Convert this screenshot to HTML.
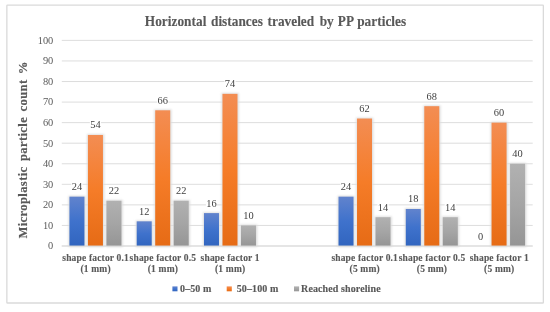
<!DOCTYPE html>
<html lang="en"><head><meta charset="utf-8"><title>Horizontal distances traveled by PP particles</title>
<style>html,body{margin:0;padding:0;background:#fff;}svg{display:block;}text{font-family:'Liberation Serif', serif;}</style>
</head><body>
<svg width="550" height="312" viewBox="0 0 550 312">
<defs>
<linearGradient id="gb" x1="0" y1="0" x2="0" y2="1"><stop offset="0" stop-color="#6183cd"/><stop offset="0.5" stop-color="#3f72cc"/><stop offset="1" stop-color="#3165bf"/></linearGradient>
<linearGradient id="go" x1="0" y1="0" x2="0" y2="1"><stop offset="0" stop-color="#f38d53"/><stop offset="0.5" stop-color="#f57c28"/><stop offset="1" stop-color="#e66b15"/></linearGradient>
<linearGradient id="gg" x1="0" y1="0" x2="0" y2="1"><stop offset="0" stop-color="#b1b1b1"/><stop offset="0.5" stop-color="#a5a5a5"/><stop offset="1" stop-color="#959595"/></linearGradient>
<filter id="sh" filterUnits="userSpaceOnUse" x="0" y="0" width="550" height="312"><feGaussianBlur stdDeviation="0.9"/></filter>
</defs>
<rect x="0" y="0" width="550" height="312" fill="#ffffff"/>
<rect x="6.85" y="5.05" width="536.5" height="297.95" rx="0.6" fill="#ffffff" stroke="#dadada" stroke-width="1.3"/>
<line x1="61.8" y1="246.00" x2="532.7" y2="246.00" stroke="#d9d9d9" stroke-width="0.9"/>
<line x1="61.8" y1="225.44" x2="532.7" y2="225.44" stroke="#d9d9d9" stroke-width="0.9"/>
<line x1="61.8" y1="204.88" x2="532.7" y2="204.88" stroke="#d9d9d9" stroke-width="0.9"/>
<line x1="61.8" y1="184.32" x2="532.7" y2="184.32" stroke="#d9d9d9" stroke-width="0.9"/>
<line x1="61.8" y1="163.76" x2="532.7" y2="163.76" stroke="#d9d9d9" stroke-width="0.9"/>
<line x1="61.8" y1="143.20" x2="532.7" y2="143.20" stroke="#d9d9d9" stroke-width="0.9"/>
<line x1="61.8" y1="122.64" x2="532.7" y2="122.64" stroke="#d9d9d9" stroke-width="0.9"/>
<line x1="61.8" y1="102.08" x2="532.7" y2="102.08" stroke="#d9d9d9" stroke-width="0.9"/>
<line x1="61.8" y1="81.52" x2="532.7" y2="81.52" stroke="#d9d9d9" stroke-width="0.9"/>
<line x1="61.8" y1="60.96" x2="532.7" y2="60.96" stroke="#d9d9d9" stroke-width="0.9"/>
<line x1="61.8" y1="40.40" x2="532.7" y2="40.40" stroke="#d9d9d9" stroke-width="0.9"/>
<text x="53.3" y="249.30" font-size="10.4" fill="#595959" text-anchor="end">0</text>
<text x="53.3" y="228.74" font-size="10.4" fill="#595959" text-anchor="end">10</text>
<text x="53.3" y="208.18" font-size="10.4" fill="#595959" text-anchor="end">20</text>
<text x="53.3" y="187.62" font-size="10.4" fill="#595959" text-anchor="end">30</text>
<text x="53.3" y="167.06" font-size="10.4" fill="#595959" text-anchor="end">40</text>
<text x="53.3" y="146.50" font-size="10.4" fill="#595959" text-anchor="end">50</text>
<text x="53.3" y="125.94" font-size="10.4" fill="#595959" text-anchor="end">60</text>
<text x="53.3" y="105.38" font-size="10.4" fill="#595959" text-anchor="end">70</text>
<text x="53.3" y="84.82" font-size="10.4" fill="#595959" text-anchor="end">80</text>
<text x="53.3" y="64.26" font-size="10.4" fill="#595959" text-anchor="end">90</text>
<text x="53.3" y="43.70" font-size="10.4" fill="#595959" text-anchor="end">100</text>
<rect x="68.54" y="195.86" width="17.20" height="51.14" fill="#dcdcdc" filter="url(#sh)"/>
<rect x="87.04" y="134.18" width="17.20" height="112.82" fill="#dcdcdc" filter="url(#sh)"/>
<rect x="105.54" y="199.97" width="17.20" height="47.03" fill="#dcdcdc" filter="url(#sh)"/>
<rect x="69.44" y="196.66" width="15.00" height="49.34" fill="url(#gb)"/>
<rect x="71.34" y="181.76" width="11.20" height="9.5" fill="#ffffff"/>
<text x="76.94" y="190.16" font-size="10.4" fill="#404040" text-anchor="middle">24</text>
<rect x="87.94" y="134.98" width="15.00" height="111.02" fill="url(#go)"/>
<rect x="89.84" y="120.08" width="11.20" height="9.5" fill="#ffffff"/>
<text x="95.44" y="128.48" font-size="10.4" fill="#404040" text-anchor="middle">54</text>
<rect x="106.44" y="200.77" width="15.00" height="45.23" fill="url(#gg)"/>
<rect x="108.34" y="185.87" width="11.20" height="9.5" fill="#ffffff"/>
<text x="113.94" y="194.27" font-size="10.4" fill="#404040" text-anchor="middle">22</text>
<text x="95.64" y="260.5" font-size="9.5" letter-spacing="0.17" stroke="#595959" stroke-width="0.12" font-weight="bold" fill="#595959" text-anchor="middle">shape factor 0.1</text>
<text x="95.64" y="272" font-size="9.5" letter-spacing="0.17" stroke="#595959" stroke-width="0.12" font-weight="bold" fill="#595959" text-anchor="middle">(1 mm)</text>
<rect x="135.81" y="220.53" width="17.20" height="26.47" fill="#dcdcdc" filter="url(#sh)"/>
<rect x="154.31" y="109.50" width="17.20" height="137.50" fill="#dcdcdc" filter="url(#sh)"/>
<rect x="172.81" y="199.97" width="17.20" height="47.03" fill="#dcdcdc" filter="url(#sh)"/>
<rect x="136.71" y="221.33" width="15.00" height="24.67" fill="url(#gb)"/>
<rect x="138.61" y="206.43" width="11.20" height="9.5" fill="#ffffff"/>
<text x="144.21" y="214.83" font-size="10.4" fill="#404040" text-anchor="middle">12</text>
<rect x="155.21" y="110.30" width="15.00" height="135.70" fill="url(#go)"/>
<rect x="157.11" y="95.40" width="11.20" height="9.5" fill="#ffffff"/>
<text x="162.71" y="103.80" font-size="10.4" fill="#404040" text-anchor="middle">66</text>
<rect x="173.71" y="200.77" width="15.00" height="45.23" fill="url(#gg)"/>
<rect x="175.61" y="185.87" width="11.20" height="9.5" fill="#ffffff"/>
<text x="181.21" y="194.27" font-size="10.4" fill="#404040" text-anchor="middle">22</text>
<text x="162.91" y="260.5" font-size="9.5" letter-spacing="0.17" stroke="#595959" stroke-width="0.12" font-weight="bold" fill="#595959" text-anchor="middle">shape factor 0.5</text>
<text x="162.91" y="272" font-size="9.5" letter-spacing="0.17" stroke="#595959" stroke-width="0.12" font-weight="bold" fill="#595959" text-anchor="middle">(1 mm)</text>
<rect x="203.08" y="212.30" width="17.20" height="34.70" fill="#dcdcdc" filter="url(#sh)"/>
<rect x="221.58" y="93.06" width="17.20" height="153.94" fill="#dcdcdc" filter="url(#sh)"/>
<rect x="240.08" y="224.64" width="17.20" height="22.36" fill="#dcdcdc" filter="url(#sh)"/>
<rect x="203.98" y="213.10" width="15.00" height="32.90" fill="url(#gb)"/>
<rect x="205.88" y="198.20" width="11.20" height="9.5" fill="#ffffff"/>
<text x="211.48" y="206.60" font-size="10.4" fill="#404040" text-anchor="middle">16</text>
<rect x="222.48" y="93.86" width="15.00" height="152.14" fill="url(#go)"/>
<rect x="224.38" y="78.96" width="11.20" height="9.5" fill="#ffffff"/>
<text x="229.98" y="87.36" font-size="10.4" fill="#404040" text-anchor="middle">74</text>
<rect x="240.98" y="225.44" width="15.00" height="20.56" fill="url(#gg)"/>
<rect x="242.88" y="210.54" width="11.20" height="9.5" fill="#ffffff"/>
<text x="248.48" y="218.94" font-size="10.4" fill="#404040" text-anchor="middle">10</text>
<text x="230.18" y="260.5" font-size="9.5" letter-spacing="0.17" stroke="#595959" stroke-width="0.12" font-weight="bold" fill="#595959" text-anchor="middle">shape factor 1</text>
<text x="230.18" y="272" font-size="9.5" letter-spacing="0.17" stroke="#595959" stroke-width="0.12" font-weight="bold" fill="#595959" text-anchor="middle">(1 mm)</text>
<rect x="337.62" y="195.86" width="17.20" height="51.14" fill="#dcdcdc" filter="url(#sh)"/>
<rect x="356.12" y="117.73" width="17.20" height="129.27" fill="#dcdcdc" filter="url(#sh)"/>
<rect x="374.62" y="216.42" width="17.20" height="30.58" fill="#dcdcdc" filter="url(#sh)"/>
<rect x="338.52" y="196.66" width="15.00" height="49.34" fill="url(#gb)"/>
<rect x="340.42" y="181.76" width="11.20" height="9.5" fill="#ffffff"/>
<text x="346.02" y="190.16" font-size="10.4" fill="#404040" text-anchor="middle">24</text>
<rect x="357.02" y="118.53" width="15.00" height="127.47" fill="url(#go)"/>
<rect x="358.92" y="103.63" width="11.20" height="9.5" fill="#ffffff"/>
<text x="364.52" y="112.03" font-size="10.4" fill="#404040" text-anchor="middle">62</text>
<rect x="375.52" y="217.22" width="15.00" height="28.78" fill="url(#gg)"/>
<rect x="377.42" y="202.32" width="11.20" height="9.5" fill="#ffffff"/>
<text x="383.02" y="210.72" font-size="10.4" fill="#404040" text-anchor="middle">14</text>
<text x="364.72" y="260.5" font-size="9.5" letter-spacing="0.17" stroke="#595959" stroke-width="0.12" font-weight="bold" fill="#595959" text-anchor="middle">shape factor 0.1</text>
<text x="364.72" y="272" font-size="9.5" letter-spacing="0.17" stroke="#595959" stroke-width="0.12" font-weight="bold" fill="#595959" text-anchor="middle">(5 mm)</text>
<rect x="404.89" y="208.19" width="17.20" height="38.81" fill="#dcdcdc" filter="url(#sh)"/>
<rect x="423.39" y="105.39" width="17.20" height="141.61" fill="#dcdcdc" filter="url(#sh)"/>
<rect x="441.89" y="216.42" width="17.20" height="30.58" fill="#dcdcdc" filter="url(#sh)"/>
<rect x="405.79" y="208.99" width="15.00" height="37.01" fill="url(#gb)"/>
<rect x="407.69" y="194.09" width="11.20" height="9.5" fill="#ffffff"/>
<text x="413.29" y="202.49" font-size="10.4" fill="#404040" text-anchor="middle">18</text>
<rect x="424.29" y="106.19" width="15.00" height="139.81" fill="url(#go)"/>
<rect x="426.19" y="91.29" width="11.20" height="9.5" fill="#ffffff"/>
<text x="431.79" y="99.69" font-size="10.4" fill="#404040" text-anchor="middle">68</text>
<rect x="442.79" y="217.22" width="15.00" height="28.78" fill="url(#gg)"/>
<rect x="444.69" y="202.32" width="11.20" height="9.5" fill="#ffffff"/>
<text x="450.29" y="210.72" font-size="10.4" fill="#404040" text-anchor="middle">14</text>
<text x="431.99" y="260.5" font-size="9.5" letter-spacing="0.17" stroke="#595959" stroke-width="0.12" font-weight="bold" fill="#595959" text-anchor="middle">shape factor 0.5</text>
<text x="431.99" y="272" font-size="9.5" letter-spacing="0.17" stroke="#595959" stroke-width="0.12" font-weight="bold" fill="#595959" text-anchor="middle">(5 mm)</text>
<rect x="490.66" y="121.84" width="17.20" height="125.16" fill="#dcdcdc" filter="url(#sh)"/>
<rect x="509.16" y="162.96" width="17.20" height="84.04" fill="#dcdcdc" filter="url(#sh)"/>
<rect x="477.56" y="231.10" width="6.00" height="9.5" fill="#ffffff"/>
<text x="480.56" y="239.50" font-size="10.4" fill="#404040" text-anchor="middle">0</text>
<rect x="491.56" y="122.64" width="15.00" height="123.36" fill="url(#go)"/>
<rect x="493.46" y="107.74" width="11.20" height="9.5" fill="#ffffff"/>
<text x="499.06" y="116.14" font-size="10.4" fill="#404040" text-anchor="middle">60</text>
<rect x="510.06" y="163.76" width="15.00" height="82.24" fill="url(#gg)"/>
<rect x="511.96" y="148.86" width="11.20" height="9.5" fill="#ffffff"/>
<text x="517.56" y="157.26" font-size="10.4" fill="#404040" text-anchor="middle">40</text>
<text x="499.26" y="260.5" font-size="9.5" letter-spacing="0.17" stroke="#595959" stroke-width="0.12" font-weight="bold" fill="#595959" text-anchor="middle">shape factor 1</text>
<text x="499.26" y="272" font-size="9.5" letter-spacing="0.17" stroke="#595959" stroke-width="0.12" font-weight="bold" fill="#595959" text-anchor="middle">(5 mm)</text>
<line x1="61.8" y1="246.00" x2="532.7" y2="246.00" stroke="#d9d9d9" stroke-width="0.9"/>
<text transform="translate(275.5,26.0) scale(0.905,1)" font-size="14.7" letter-spacing="0.03" word-spacing="1.4" font-weight="bold" fill="#595959" stroke="#595959" stroke-width="0.12" text-anchor="middle">Horizontal distances traveled<tspan dx="0.95"> by</tspan><tspan dx="-0.6"> PP</tspan><tspan dx="-1.7"> particles</tspan></text>
<text transform="translate(26.5,149.9) rotate(-90)" font-size="12.6" letter-spacing="0.38" word-spacing="1.8" font-weight="bold" fill="#595959" stroke="#595959" stroke-width="0.15" text-anchor="middle">Microplastic particle count %</text>
<rect x="172.4" y="286.4" width="5.1" height="4.9" fill="url(#gb)"/>
<text transform="translate(180.1,292.3) scale(0.955,1)" font-size="10.5" letter-spacing="0.08" font-weight="bold" fill="#595959" stroke="#595959" stroke-width="0.14">0–50 m</text>
<rect x="226.7" y="286.4" width="5.1" height="4.9" fill="url(#go)"/>
<text transform="translate(236.7,292.3) scale(0.955,1)" font-size="10.5" letter-spacing="0.12" font-weight="bold" fill="#595959" stroke="#595959" stroke-width="0.14">50–100 m</text>
<rect x="294.0" y="286.4" width="5.1" height="4.9" fill="url(#gg)"/>
<text transform="translate(301.1,292.3) scale(0.955,1)" font-size="10.5" letter-spacing="0.1" font-weight="bold" fill="#595959" stroke="#595959" stroke-width="0.14">Reached shoreline</text>
</svg></body></html>
